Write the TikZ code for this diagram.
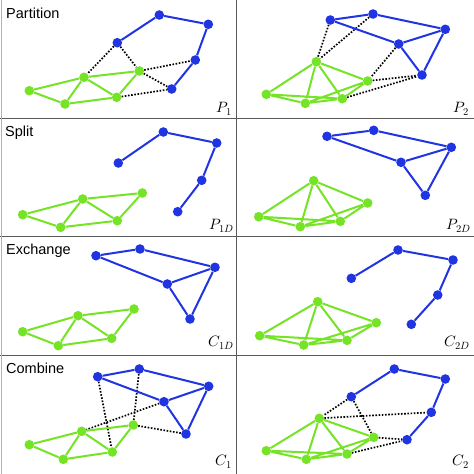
\documentclass[tikz,border=0pt]{standalone}
\usepackage{fontspec}
\setmainfont{Liberation Sans}
\usepackage{unicode-math}
\setmathfont{Latin Modern Math}
\usetikzlibrary{backgrounds}
\definecolor{nblue}{RGB}{32,52,226}
\definecolor{ngreen}{RGB}{118,228,38}
\definecolor{divgray}{RGB}{90,90,90}
\begin{document}
\begin{tikzpicture}[x=1pt,y=-1pt,
  bn/.style={circle,fill=nblue,inner sep=0pt,minimum size=9.6pt},
  gn/.style={circle,fill=ngreen,inner sep=0pt,minimum size=9.6pt},
  be/.style={draw=nblue,line width=2pt},
  ge/.style={draw=ngreen,line width=2pt},
  cut/.style={draw=black,line width=1.7pt,dash pattern=on 1.6pt off 1.6pt},
  ttl/.style={anchor=base west,inner sep=0pt,font=\fontsize{14.5}{16}\selectfont},
  lbl/.style={anchor=base east,inner sep=0pt,font=\fontsize{15}{17}\selectfont},
  divider/.style={draw=divgray,line width=0.8pt}]
\useasboundingbox (0,0) rectangle (474,474);

% ---------- Panel 1: P1 ----------
\node[bn] (aA) at (117.3,42.7) {};
\node[bn] (aB) at (159.3,15) {};
\node[bn] (aC) at (208.3,24.3) {};
\node[bn] (aD) at (195.3,60) {};
\node[bn] (aE) at (171.7,89) {};
\node[gn] (aL) at (29.3,90.7) {};
\node[gn] (aT) at (84,77.3) {};
\node[gn] (aR) at (139.3,71) {};
\node[gn] (aBL) at (65,104) {};
\node[gn] (aBR) at (116.7,97.3) {};
% ---------- Panel 2: P2 ----------
\node[bn] (bL) at (330.3,20) {};
\node[bn] (bT) at (373,14) {};
\node[bn] (bR) at (445.3,29.3) {};
\node[bn] (bM) at (398.7,44) {};
\node[bn] (bB) at (422,75) {};
\node[gn] (bgT) at (316.3,61.7) {};
\node[gn] (bgR) at (367.7,81) {};
\node[gn] (bgL) at (266.3,94.3) {};
\node[gn] (bgBM) at (305.3,103.3) {};
\node[gn] (bgBR) at (342.3,98.7) {};
% ---------- Panel 3: P1D ----------
\node[bn] (cA) at (118.3,163) {};
\node[bn] (cB) at (163.3,132) {};
\node[bn] (cC) at (216.7,143) {};
\node[bn] (cD) at (201.7,180.3) {};
\node[bn] (cE) at (177.7,211.7) {};
\node[gn] (cL) at (22.7,214.7) {};
\node[gn] (cT) at (82.7,199) {};
\node[gn] (cR) at (142.3,193) {};
\node[gn] (cBL) at (60.7,227.3) {};
\node[gn] (cBR) at (117.3,220.7) {};
% ---------- Panel 4: P2D ----------
\node[bn] (dL) at (327,136.3) {};
\node[bn] (dT) at (373.7,130.3) {};
\node[bn] (dR) at (451.3,147.3) {};
\node[bn] (dM) at (401,162.3) {};
\node[bn] (dB) at (425.3,195.3) {};
\node[gn] (dgT) at (313.7,180.7) {};
\node[gn] (dgR) at (367.7,203) {};
\node[gn] (dgL) at (258.7,216.7) {};
\node[gn] (dgBM) at (300.3,226.7) {};
\node[gn] (dgBR) at (340.3,221.3) {};
% ---------- Panel 5: C1D ----------
\node[bn] (eL) at (96,255.7) {};
\node[bn] (eT) at (140,249) {};
\node[bn] (eR) at (215,267.3) {};
\node[bn] (eM) at (167.3,284) {};
\node[bn] (eB) at (190,319) {};
\node[gn] (egL) at (22.7,331.7) {};
\node[gn] (egT) at (78,315.7) {};
\node[gn] (egR) at (134,309) {};
\node[gn] (egBL) at (58.3,345.7) {};
\node[gn] (egBR) at (111.7,338.3) {};
% ---------- Panel 6: C2D ----------
\node[bn] (fA) at (351.3,278.3) {};
\node[bn] (fB) at (398,250) {};
\node[bn] (fC) at (453,260) {};
\node[bn] (fD) at (437.7,295) {};
\node[bn] (fE) at (411.3,324.3) {};
\node[gn] (fT) at (317.7,301.7) {};
\node[gn] (fR) at (376.3,322.7) {};
\node[gn] (fL) at (259.7,335.7) {};
\node[gn] (fBM) at (303.7,345) {};
\node[gn] (fBR) at (347,340.3) {};
% ---------- Panel 7: C1 ----------
\node[bn] (hL) at (97.7,376.7) {};
\node[bn] (hT) at (139.3,369) {};
\node[bn] (hR) at (208.7,386.3) {};
\node[bn] (hM) at (164,401.7) {};
\node[bn] (hB) at (186,434) {};
\node[gn] (hgL) at (29.3,444.7) {};
\node[gn] (hgT) at (81.7,431.3) {};
\node[gn] (hgR) at (133.3,425) {};
\node[gn] (hgBL) at (63.3,459.3) {};
\node[gn] (hgBR) at (112.3,452) {};
% ---------- Panel 8: C2 ----------
\node[bn] (kA) at (351.3,396.7) {};
\node[bn] (kB) at (394.3,369) {};
\node[bn] (kC) at (445.3,379) {};
\node[bn] (kD) at (431.3,412.3) {};
\node[bn] (kE) at (407,439.7) {};
\node[gn] (kT) at (319.3,418.3) {};
\node[gn] (kR) at (373.7,437.3) {};
\node[gn] (kL) at (266.3,450.7) {};
\node[gn] (kBM) at (306.3,459.3) {};
\node[gn] (kBR) at (347,454) {};

% ---------- titles and labels ----------
\node[ttl] (t1) at (6,18.3) {Partition};
\node[ttl] (t2) at (5,136.3) {Split};
\node[ttl] (t3) at (6,254) {Exchange};
\node[ttl] (t4) at (6,373) {Combine};
\node[lbl] (l1) at (232,112) {$P_1$};
\node[lbl] (l2) at (469,112) {$P_2$};
\node[lbl] (l3) at (234,229) {$P_{1D}$};
\node[lbl] (l4) at (471,229) {$P_{2D}$};
\node[lbl] (l5) at (234,346) {$C_{1D}$};
\node[lbl] (l6) at (470,346) {$C_{2D}$};
\node[lbl] (l7) at (232,465) {$C_1$};
\node[lbl] (l8) at (469,465) {$C_2$};

\begin{pgfonlayer}{background}
\fill[white] (0,0) rectangle (474,474);
\draw[divider] (236,0) -- (236,474);
\draw[divider] (0,118) -- (474,118);
\draw[divider] (0,236) -- (474,236);
\draw[divider] (0,355) -- (474,355);
\draw[draw=gray!60,line width=1pt] (1,0) -- (1,474);
% P1
\draw[cut] (aA) -- (aT) (aA) -- (aR) (aR) -- (aD) (aR) -- (aE) (aBR) -- (aE);
\draw[be] (aA) -- (aB) -- (aC) -- (aD) -- (aE);
\draw[ge] (aL) -- (aT) -- (aR) -- (aBR) -- (aBL) -- (aL) (aT) -- (aBL) (aT) -- (aBR);
% P2
\draw[cut] (bL) -- (bgT) (bT) -- (bgT) (bM) -- (bgR) (bgR) -- (bB) (bgBR) -- (bB);
\draw[be] (bL) -- (bT) -- (bR) -- (bM) -- (bL) (bM) -- (bB) -- (bR);
\draw[ge] (bgT) -- (bgL) -- (bgBM) -- (bgBR) -- (bgR) -- (bgT) (bgT) -- (bgBM) (bgT) -- (bgBR) (bgL) -- (bgBR) (bgBM) -- (bgR);
% P1D
\draw[be] (cA) -- (cB) -- (cC) -- (cD) -- (cE);
\draw[ge] (cL) -- (cT) -- (cR) -- (cBR) -- (cBL) -- (cL) (cT) -- (cBL) (cT) -- (cBR);
% P2D
\draw[be] (dL) -- (dT) -- (dR) -- (dM) -- (dL) (dM) -- (dB) -- (dR);
\draw[ge] (dgT) -- (dgL) -- (dgBM) -- (dgBR) -- (dgR) -- (dgT) (dgT) -- (dgBM) (dgT) -- (dgBR) (dgL) -- (dgBR) (dgBM) -- (dgR);
% C1D
\draw[be] (eL) -- (eT) -- (eR) -- (eM) -- (eL) (eM) -- (eB) -- (eR);
\draw[ge] (egL) -- (egT) -- (egR) -- (egBR) -- (egBL) -- (egL) (egT) -- (egBL) (egT) -- (egBR);
% C2D
\draw[be] (fA) -- (fB) -- (fC) -- (fD) -- (fE);
\draw[ge] (fT) -- (fL) -- (fBM) -- (fBR) -- (fR) -- (fT) (fT) -- (fBM) (fT) -- (fBR) (fL) -- (fBR) (fBM) -- (fR);
% C1
\draw[cut] (hL) -- (hgBR) (hT) -- (hgR) (hM) -- (hgT) (hgR) -- (hB);
\draw[be] (hL) -- (hT) -- (hR) -- (hM) -- (hL) (hM) -- (hB) -- (hR);
\draw[ge] (hgL) -- (hgT) -- (hgR) -- (hgBR) -- (hgBL) -- (hgL) (hgT) -- (hgBL) (hgT) -- (hgBR);
% C2
\draw[cut] (kA) -- (kT) (kA) -- (kR) (kT) -- (kD) (kR) -- (kE) (kBR) -- (kE);
\draw[be] (kA) -- (kB) -- (kC) -- (kD) -- (kE);
\draw[ge] (kT) -- (kL) -- (kBM) -- (kBR) -- (kR) -- (kT) (kT) -- (kBM) (kT) -- (kBR) (kL) -- (kBR) (kBM) -- (kR);
\end{pgfonlayer}
\end{tikzpicture}
\end{document}
